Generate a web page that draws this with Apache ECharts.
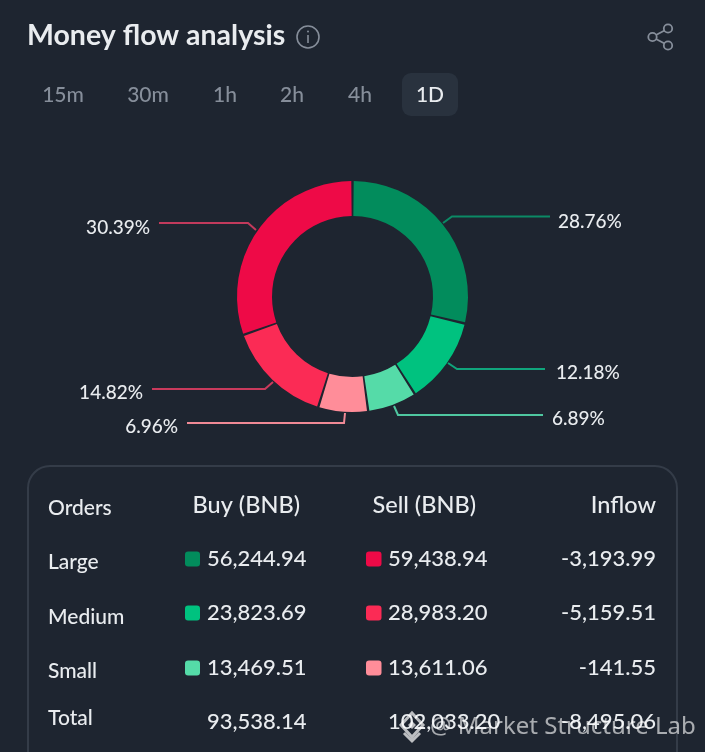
<!DOCTYPE html>
<html>
<head>
<meta charset="utf-8">
<style>html,body{margin:0;padding:0;background:#1e2530}#c{width:705px;height:752px}</style>
<script src="https://cdn.jsdelivr.net/npm/echarts@6/dist/echarts.min.js"></script>
</head>
<body>
<div id="c"></div>
<script>
const sliceNames = ['Large buy','Medium buy','Small buy','Small sell','Medium sell','Large sell'];
const sliceShares = [28.76,12.18,6.89,6.96,14.82,30.39];
const sliceColors = ['#028c5c','#00c27f','#55dba8','#ff8d99','#fb2b55','#ee0a47'];
const lineColors = ['#0b8a65','#10a57c','#4fc7a0','#f08a96','#c93a5c','#c23a5c'];
const intervals = ['15m','30m','1h','2h','4h','1D'];
const rowNames = ['Large','Medium','Small','Total'];
const buyValues = ['56,244.94','23,823.69','13,469.51','93,538.14'];
const sellValues = ['59,438.94','28,983.20','13,611.06','102,033.20'];
const inflowValues = ['-3,193.99','-5,159.51','-141.55','-8,495.06'];
const headers = ['Orders','Buy (BNB)','Sell (BNB)','Inflow'];

const BG = '#1e2530', FG = '#e9ecef', MUTED = '#868e9a', FONT = 'Lato';
// label leader-line geometry [startX,startY,kneeX,kneeY,endX, labelX, labelY, align]
const leaders = [
  [443,223,452,216.5,550, 558,221.5,'left'],
  [448,363,457,369,545, 556,373,'left'],
  [394,406,398,415,543, 552,419,'left'],
  [345,413,344,423,187, 178,427,'right'],
  [273,382,265,389,152, 143,393,'right'],
  [256,230,248,223,159, 150,228,'right']
];
const txt = (x,y,text,o={}) => ({type:'text',x,y,silent:true,z:o.z||5,style:{
  text,fill:o.fill||FG,font:`${o.weight||500} ${o.size||20}px ${o.family||FONT}`,
  textAlign:o.align||'left',textVerticalAlign:'middle',opacity:o.opacity==null?1:o.opacity}});

const g = [];
g.push(txt(27,36,'Money flow analysis',{size:28.5,weight:700}));
g.push({type:'circle',shape:{cx:308,cy:37,r:11},style:{fill:'none',stroke:MUTED,lineWidth:1.6}});
g.push({type:'line',shape:{x1:308,y1:35,x2:308,y2:43},style:{stroke:MUTED,lineWidth:1.6}});
g.push({type:'circle',shape:{cx:308,cy:31.5,r:1},style:{fill:MUTED}});
// share icon
[[668,28.5],[668,45.5],[652.5,37]].forEach(p=>g.push({type:'circle',shape:{cx:p[0],cy:p[1],r:4.2},style:{fill:'none',stroke:MUTED,lineWidth:1.8}}));
g.push({type:'polyline',shape:{points:[[664.5,30.5],[656,35]]},style:{stroke:MUTED,lineWidth:1.8,fill:'none'}});
g.push({type:'polyline',shape:{points:[[664.5,43.5],[656,39]]},style:{stroke:MUTED,lineWidth:1.8,fill:'none'}});
// interval tabs
g.push({type:'rect',shape:{x:402,y:73,width:56,height:43,r:9},style:{fill:'#29323e'}});
const tabX = [63,148,225,292,360,430];
intervals.forEach((t,i)=>g.push(txt(tabX[i],95.5,t,{align:'center',size:21,fill:i===5?FG:MUTED})));
// table frame
g.push({type:'rect',shape:{x:28,y:466,width:649,height:320,r:22},style:{fill:'none',stroke:'#343c48',lineWidth:2}});
g.push(txt(48,508,headers[0],{size:21}));
g.push(txt(300,505,headers[1],{size:23.5,align:'right'}));
g.push(txt(476,505,headers[2],{size:23.5,align:'right'}));
g.push(txt(656,505,headers[3],{size:23.5,align:'right'}));
const labelY=[562,617,671,718], valY=[559,613,668,722];
rowNames.forEach((n,i)=>{
  g.push(txt(48,labelY[i],n,{size:21}));
  if(i<3){
    g.push({type:'rect',shape:{x:185,y:valY[i]-7.5,width:15,height:15,r:3},style:{fill:sliceColors[i]}});
    g.push({type:'rect',shape:{x:366,y:valY[i]-7.5,width:15.5,height:15,r:3},style:{fill:sliceColors[5-i]}});
  }
  g.push(txt(207,valY[i],buyValues[i],{size:22}));
  g.push(txt(388,valY[i],sellValues[i],{size:22}));
  g.push(txt(656,valY[i],inflowValues[i],{size:22,align:'right'}));
});
// watermark
g.push(txt(430,727,'@ Market Structure Lab',{size:24,family:'Noto Sans',weight:400,fill:'#ffffff',opacity:.62,z:8}));
g.push({type:'polygon',z:8,shape:{points:[[412,713],[423,725],[412,737],[401,725]]},style:{fill:'none',stroke:'rgba(255,255,255,.7)',lineWidth:3}});
g.push({type:'polygon',z:8,shape:{points:[[412,721],[416,725],[412,729],[408,725]]},style:{fill:'rgba(255,255,255,.7)'}});
g.push({type:'polyline',z:8,shape:{points:[[404,733],[412,741],[420,733]]},style:{fill:'none',stroke:'rgba(255,255,255,.7)',lineWidth:3}});

const chart = echarts.init(document.getElementById('c'),null,{renderer:'canvas'});
chart.setOption({
  backgroundColor:BG,
  animation:false,
  graphic:g,
  series:[{
    type:'pie',
    center:[352.5,296.5],
    radius:[80.5,115.5],
    startAngle:90,
    clockwise:true,
    padAngle:1.2,
    avoidLabelOverlap:false,
    data:sliceNames.map((name,i)=>({name,value:sliceShares[i],
      itemStyle:{color:sliceColors[i]},
      labelLine:{lineStyle:{color:lineColors[i],width:2}}})),
    emphasis:{disabled:true},
    label:{show:true,position:'outside',formatter:p=>p.value.toFixed(2)+'%',color:FG,fontFamily:FONT,fontSize:19,fontWeight:500},
    labelLine:{show:true,smooth:false},
    labelLayout:p=>{
      const l=leaders[p.dataIndex];
      return {x:l[5],y:l[6],align:l[7],verticalAlign:'middle',
        labelLinePoints:[[l[0],l[1]],[l[2],l[3]],[l[4],l[3]]]};
    }
  }]
});
</script>
</body>
</html>
